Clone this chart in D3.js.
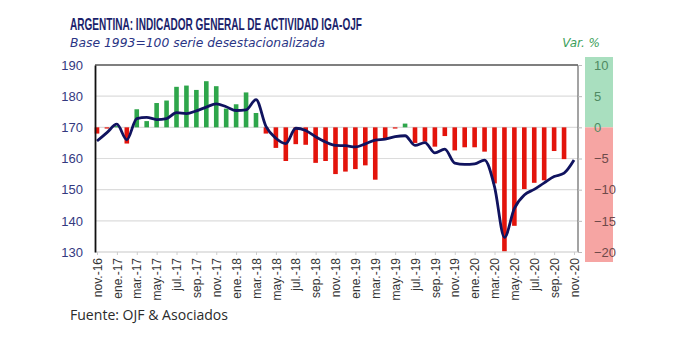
<!DOCTYPE html>
<html>
<head>
<meta charset="utf-8">
<style>
  body { margin: 0; background: #fff; }
</style>
</head>
<body>
<div id="chart"></div>
<script src="https://d3js.org/d3.v7.min.js"></script>
<script>
// months nov-16 .. nov-20
const months = ["nov.-16","dic.-16",
  "ene.-17","feb.-17","mar.-17","abr.-17","may.-17","jun.-17","jul.-17","ago.-17","sep.-17","oct.-17","nov.-17","dic.-17",
  "ene.-18","feb.-18","mar.-18","abr.-18","may.-18","jun.-18","jul.-18","ago.-18","sep.-18","oct.-18","nov.-18","dic.-18",
  "ene.-19","feb.-19","mar.-19","abr.-19","may.-19","jun.-19","jul.-19","ago.-19","sep.-19","oct.-19","nov.-19","dic.-19",
  "ene.-20","feb.-20","mar.-20","abr.-20","may.-20","jun.-20","jul.-20","ago.-20","sep.-20","oct.-20","nov.-20"];

// index, base 1993=100 (left axis)
const indice = [165.6,168.3,171.0,166.0,172.8,173.2,172.5,172.8,174.7,174.4,175.3,176.5,177.5,176.6,175.4,175.6,
  178.9,170.3,166.5,164.8,169.7,169.0,167.0,165.3,164.2,164.1,163.7,164.7,165.9,166.2,167.0,167.3,
  164.2,165.1,161.8,163.0,158.5,158.1,158.3,159.5,151.0,134.7,144.0,148.3,150.1,152.2,154.2,155.3,159.5];

// var. % interanual (right axis)
const variacion = [-1.0,-0.2,0.2,-2.6,2.9,1.0,3.9,4.3,6.5,6.7,6.0,7.4,6.6,3.0,3.7,5.6,
  2.3,-1.0,-3.3,-5.4,-2.7,-2.8,-5.7,-5.4,-7.5,-7.1,-6.7,-6.1,-8.4,-2.0,-0.2,0.6,
  -2.5,-2.3,-3.1,-1.4,-3.7,-3.2,-3.2,-3.9,-9.0,-19.9,-15.8,-9.9,-8.9,-8.5,-3.8,-5.1,null];

const tickLabels = ["nov.-16","ene.-17","mar.-17","may.-17","jul.-17","sep.-17","nov.-17","ene.-18","mar.-18",
  "may.-18","jul.-18","sep.-18","nov.-18","ene.-19","mar.-19","may.-19","jul.-19","sep.-19","nov.-19",
  "ene.-20","mar.-20","may.-20","jul.-20","sep.-20","nov.-20"];
const leftTicks = [130,140,150,160,170,180,190];
const rightTicks = [-20,-15,-10,-5,0,5,10];

const W = 700, H = 342;
const plot = {left: 95, right: 578, top: 65, bottom: 252};
const sans = "Liberation Sans, Arial, sans-serif";

const svg = d3.select("#chart").append("svg")
  .attr("width", W).attr("height", H)
  .attr("font-family", sans);

const x = d3.scalePoint().domain(months).range([97, 574]);
const yL = d3.scaleLinear().domain([130, 190]).range([plot.bottom, plot.top]);
const yR = d3.scaleLinear().domain([-20, 10]).range([plot.bottom, plot.top]);

// titles
svg.append("text").attr("x", 70).attr("y", 30)
  .attr("font-size", 16.5).attr("font-weight", "bold").attr("fill", "#1b1f6b")
  .attr("font-family", "Liberation Sans Narrow, Liberation Sans, Arial, sans-serif")
  .attr("textLength", 292).attr("lengthAdjust", "spacingAndGlyphs")
  .text("ARGENTINA: INDICADOR GENERAL DE ACTIVIDAD IGA-OJF");
svg.append("text").attr("x", 70).attr("y", 47)
  .attr("font-size", 13).attr("font-style", "italic").attr("fill", "#2a3585")
  .attr("font-family", "DejaVu Sans, Verdana, sans-serif")
  .attr("textLength", 255).attr("lengthAdjust", "spacingAndGlyphs")
  .text("Base 1993=100 serie desestacionalizada");
svg.append("text").attr("x", 600).attr("y", 47).attr("text-anchor", "end")
  .attr("font-size", 12).attr("font-style", "italic").attr("fill", "#3aa05a")
  .attr("font-family", "DejaVu Sans, Verdana, sans-serif")
  .text("Var. %");

// right axis colour panel
svg.append("rect").attr("x", 585).attr("y", 57).attr("width", 28)
  .attr("height", yR(0) - 57).attr("fill", "#a9dfbf");
svg.append("rect").attr("x", 585).attr("y", yR(0)).attr("width", 28)
  .attr("height", 262 - yR(0)).attr("fill", "#f6a5a3");

// grid
svg.append("g").selectAll("line").data(leftTicks.filter(d => d > 130 && d < 190)).join("line")
  .attr("x1", plot.left).attr("x2", plot.right)
  .attr("y1", d => yL(d)).attr("y2", d => yL(d))
  .attr("stroke", "#dcdcdc").attr("stroke-width", 1.2);

// bars
const bw = 4.6;
svg.append("g").selectAll("rect").data(variacion.map((v, i) => ({m: months[i], v})).filter(d => d.v !== null))
  .join("rect")
  .attr("x", d => x(d.m) - bw / 2)
  .attr("width", bw)
  .attr("y", d => yR(Math.max(0, d.v)))
  .attr("height", d => Math.abs(yR(d.v) - yR(0)))
  .attr("fill", d => d.v >= 0 ? "#2ea64b" : "#e3140c");

// line
const line = d3.line()
  .x((d, i) => x(months[i]))
  .y(d => yL(d))
  .curve(d3.curveMonotoneX);
svg.append("path").datum(indice)
  .attr("d", line).attr("fill", "none")
  .attr("stroke", "#10135f").attr("stroke-width", 2.8)
  .attr("stroke-linejoin", "round");

// frame
svg.append("line").attr("x1", plot.left).attr("x2", plot.right)
  .attr("y1", plot.top).attr("y2", plot.top).attr("stroke", "#555").attr("stroke-width", 1.5);
svg.append("line").attr("x1", plot.right).attr("x2", plot.right)
  .attr("y1", plot.top).attr("y2", plot.bottom).attr("stroke", "#666").attr("stroke-width", 1.2);
svg.append("line").attr("x1", plot.left).attr("x2", plot.right)
  .attr("y1", plot.bottom).attr("y2", plot.bottom).attr("stroke", "#c8c8c8").attr("stroke-width", 1.2);

// left axis
const axL = svg.append("g").attr("transform", `translate(${plot.left},0)`)
  .call(d3.axisLeft(yL).tickValues(leftTicks).tickSize(0).tickPadding(12));
axL.select(".domain").attr("stroke", "#111").attr("stroke-width", 1.8);
axL.selectAll("text").attr("font-size", 13).attr("fill", "#34397f")
  .attr("font-family", sans);

// right axis
const axR = svg.append("g").attr("transform", `translate(${plot.right},0)`)
  .call(d3.axisRight(yR).tickValues(rightTicks).tickSize(4).tickPadding(12));
axR.select(".domain").remove();
axR.selectAll(".tick line").attr("stroke", "#bbb");
axR.selectAll("text").attr("font-size", 13)
  .attr("font-family", sans)
  .attr("fill", d => d >= 0 ? "#4f8a62" : "#6e4a4a");

// x axis
const axX = svg.append("g").attr("transform", `translate(0,${plot.bottom})`)
  .call(d3.axisBottom(x).tickValues(tickLabels).tickSize(3).tickPadding(0));
axX.select(".domain").remove();
axX.selectAll(".tick line").attr("stroke", "#ccc");
axX.selectAll("text")
  .attr("font-size", 12).attr("fill", "#333")
  .attr("font-family", sans)
  .attr("transform", "rotate(-90)")
  .attr("text-anchor", "end")
  .attr("dx", "-6").attr("dy", "0.35em").attr("y", 0);

// source
svg.append("text").attr("x", 70).attr("y", 320)
  .attr("font-size", 14).attr("fill", "#2b2b2b")
  .attr("font-family", "Open Sans, Liberation Sans, sans-serif")
  .attr("textLength", 158).attr("lengthAdjust", "spacingAndGlyphs")
  .text("Fuente: OJF & Asociados");
</script>
</body>
</html>
